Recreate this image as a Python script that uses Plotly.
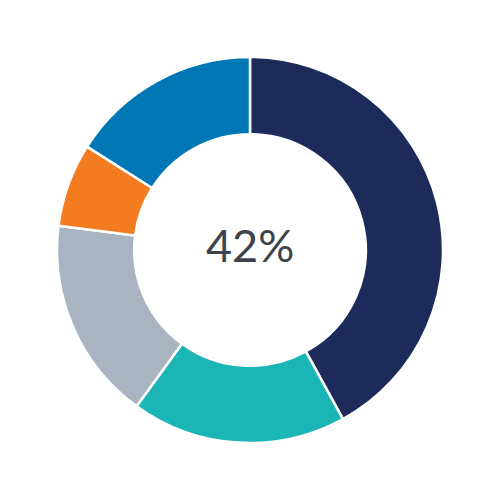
import plotly.graph_objects as go

# スライスの値（時計回り、上から）
labels = ["A", "B", "C", "D", "E"]
values = [42, 18, 17, 7, 16]
colors = ["#1c2b5a", "#1cb5b5", "#a9b4c3", "#f37b20", "#0077b5"]
center_text = "42%"

# ページの余白(8px)を補正して中心を(250,250)に
cx, cy, r = 0.484, 0.516, 0.386

fig = go.Figure(
    go.Pie(
        labels=labels,
        values=values,
        hole=0.6,
        sort=False,
        direction="clockwise",
        rotation=0,
        marker=dict(colors=colors, line=dict(color="white", width=2.5)),
        textinfo="none",
        hoverinfo="label+percent",
        domain=dict(x=[cx - r, cx + r], y=[cy - r, cy + r]),
    )
)

fig.add_annotation(
    text=center_text,
    x=cx, y=cy + 0.011, xref="paper", yref="paper",
    showarrow=False,
    font=dict(family="Lato, Noto Sans, sans-serif", size=45, color="#3d434a"),
)

fig.update_layout(
    width=500,
    height=500,
    margin=dict(l=0, r=0, t=0, b=0),
    showlegend=False,
    paper_bgcolor="white",
    plot_bgcolor="white",
)

fig.write_html("out.html")
